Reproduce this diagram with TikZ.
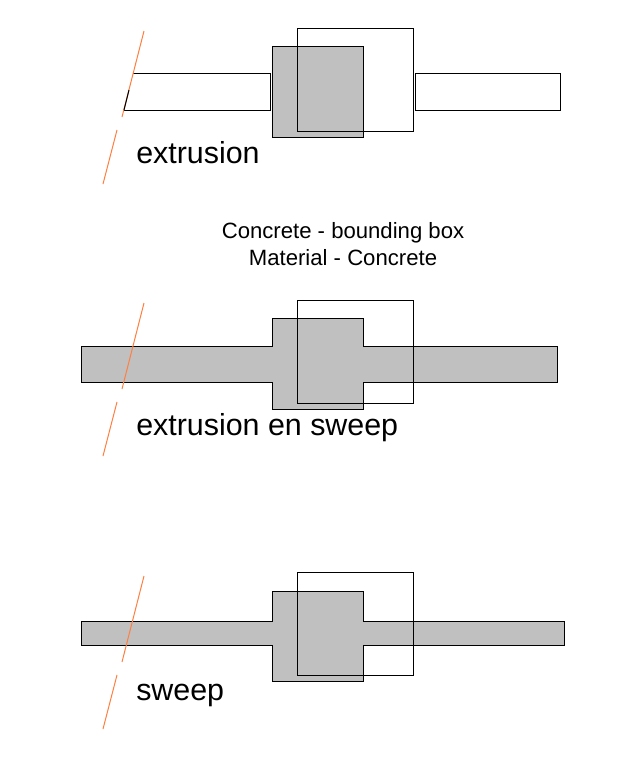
\documentclass[tikz,border=0pt]{standalone}
\usepackage{fontspec}
\setmainfont{Liberation Sans}
\definecolor{conc}{HTML}{C0C0C0}
\definecolor{brk}{HTML}{FF7F40}
\begin{document}
\begin{tikzpicture}[x=0.75pt,y=-0.75pt,
  solid/.style={draw=black,fill=conc,line width=0.75pt},
  box/.style={draw=black,line width=0.75pt},
  cut/.style={draw=brk,line width=0.75pt},
  big/.style={font=\fontsize{22.8}{26}\selectfont,inner sep=0pt,anchor=base west},
  small/.style={font=\fontsize{16.6}{19}\selectfont,inner sep=0pt}]
\useasboundingbox (0,0) rectangle (621,764);
% top
\draw[box] (133,73) -- (270,73) -- (270,110) -- (124,110);
\draw[box] (415,73) rectangle (560,110);
\draw[solid] (272,46) rectangle (363,137);
\draw[box] (297,28) rectangle (413,131);
\draw[cut] (144,31) -- (122,117);
\draw[cut] (117,130) -- (103,184);
\draw[black,line width=0.75pt] (129,90) -- (124,110);
\node[big] (t1) at (136,163) {extrusion};
\node[small] (c1) at (343,233) {Concrete - bounding box};
\node[small] (c2) at (343,258) {Material - Concrete};
% middle
\draw[solid] (81,346) -- (272,346) -- (272,318) -- (363,318) -- (363,346) -- (557,346)
  -- (557,382) -- (363,382) -- (363,409) -- (272,409) -- (272,382) -- (81,382) -- cycle;
\draw[box] (297,300) rectangle (413,403);
\draw[cut] (144,303) -- (122,389);
\draw[cut] (117,402) -- (103,456);
\node[big] (t2) at (136,435) {extrusion en sweep};
% bottom
\draw[solid] (81,621) -- (272,621) -- (272,591) -- (363,591) -- (363,621) -- (564,621)
  -- (564,645) -- (363,645) -- (363,681) -- (272,681) -- (272,645) -- (81,645) -- cycle;
\draw[box] (297,572) rectangle (413,675);
\draw[cut] (144,576) -- (122,662);
\draw[cut] (117,675) -- (103,729);
\node[big] (t3) at (136,700) {sweep};
\end{tikzpicture}
\end{document}
